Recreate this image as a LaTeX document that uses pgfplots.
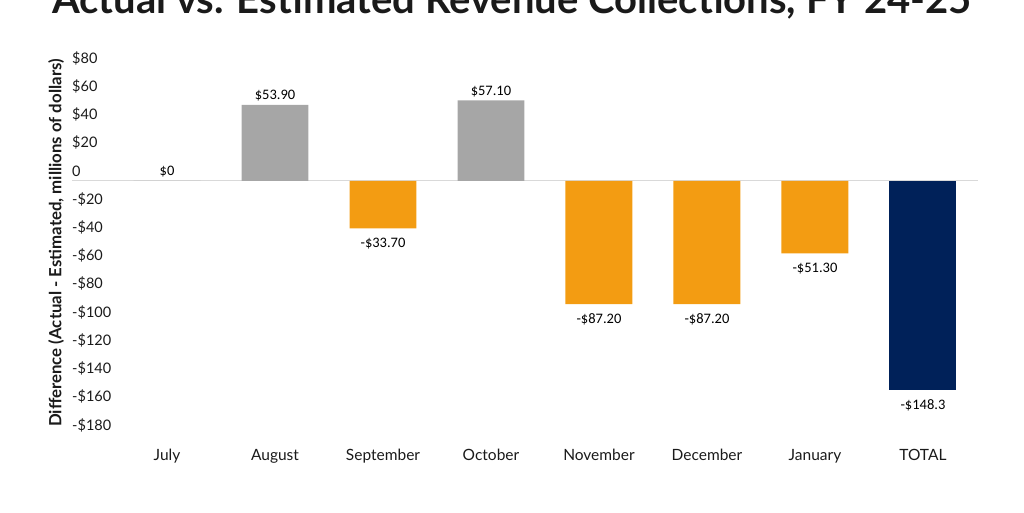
\documentclass[border=0pt]{standalone}
\usepackage{pgfplots}
\pgfplotsset{compat=1.18}
\usepackage{fontspec}
\setmainfont{Lato}
\newfontfamily\labelfont{Carlito}

\definecolor{barGray}{RGB}{166,166,166}
\definecolor{barOrange}{RGB}{243,156,18}
\definecolor{barNavy}{RGB}{0,33,89}
\definecolor{zeroLine}{RGB}{217,217,217}
\definecolor{txt}{RGB}{26,26,26}

\begin{document}
\begin{tikzpicture}[x=1pt,y=1pt]
\begin{axis}[
  scale only axis, width=906pt, height=367pt,
  xmin=-0.88, xmax=7.51, ymin=-180, ymax=80,
  axis line style={draw=none},
  major tick length=0pt,
  xtick={0,1,2,3,4,5,6,7},
  xticklabels={July,August,September,October,November,December,January,TOTAL},
  xticklabel pos=bottom,
  xticklabel style={font=\fontsize{15.5}{18}\selectfont, text=txt, yshift=-11pt},
  ytick={-180,-160,-140,-120,-100,-80,-60,-40,-20,0,20,40,60,80},
  yticklabels={-\$180,-\$160,-\$140,-\$120,-\$100,-\$80,-\$60,-\$40,-\$20,0,\$20,\$40,\$60,\$80},
  yticklabel style={font=\fontsize{14.5}{16}\selectfont, text=txt, anchor=west, inner sep=0pt, yshift=10pt},
  ybar, bar width=0.62, bar shift=0pt,
  point meta=explicit symbolic,
  nodes near coords,
  nodes near coords style={font=\labelfont\fontsize{14.5}{16}\selectfont, text=black},
  clip=false,
]
\coordinate (o) at (rel axis cs:0,0);
\draw[zeroLine, line width=1pt] (axis cs:-0.88,0) -- (axis cs:7.51,0);

\addplot[fill=barGray, draw=none,
  nodes near coords style={anchor=south}] table[meta=label] {
x y label
0 0 {\$0}
1 53.9 {\$53.90}
3 57.1 {\$57.10}
};
\addplot[fill=barOrange, draw=none,
  nodes near coords style={anchor=north, yshift=-6pt}] table[meta=label] {
x y label
2 -33.7 {-\$33.70}
4 -87.2 {-\$87.20}
5 -87.2 {-\$87.20}
6 -51.3 {-\$51.30}
};
\addplot[fill=barNavy, draw=none,
  nodes near coords style={anchor=north, yshift=-6pt}] table[meta=label] {
x y label
7 -148.3 {-\$148.3}
};
\end{axis}

% page frame around the plot area
\path ([shift={(-72,-77)}]o) rectangle ([shift={(952,435)}]o);

% y axis label
\node[rotate=90, font=\fontsize{16.8}{20}\selectfont\bfseries, text=txt, inner sep=0pt]
  at ([shift={(-16,192)}]o) {Difference (Actual - Estimated, millions of dollars)};

% title (runs past the top edge of the page, so kept out of the bounding box)
\pgfinterruptboundingbox
\node[anchor=base, font=\fontsize{40}{46}\selectfont\bfseries, text=txt, inner sep=0pt]
  at ([shift={(440,421)}]o) {Actual vs. Estimated Revenue Collections, FY 24-25};
\endpgfinterruptboundingbox
\end{tikzpicture}
\end{document}
